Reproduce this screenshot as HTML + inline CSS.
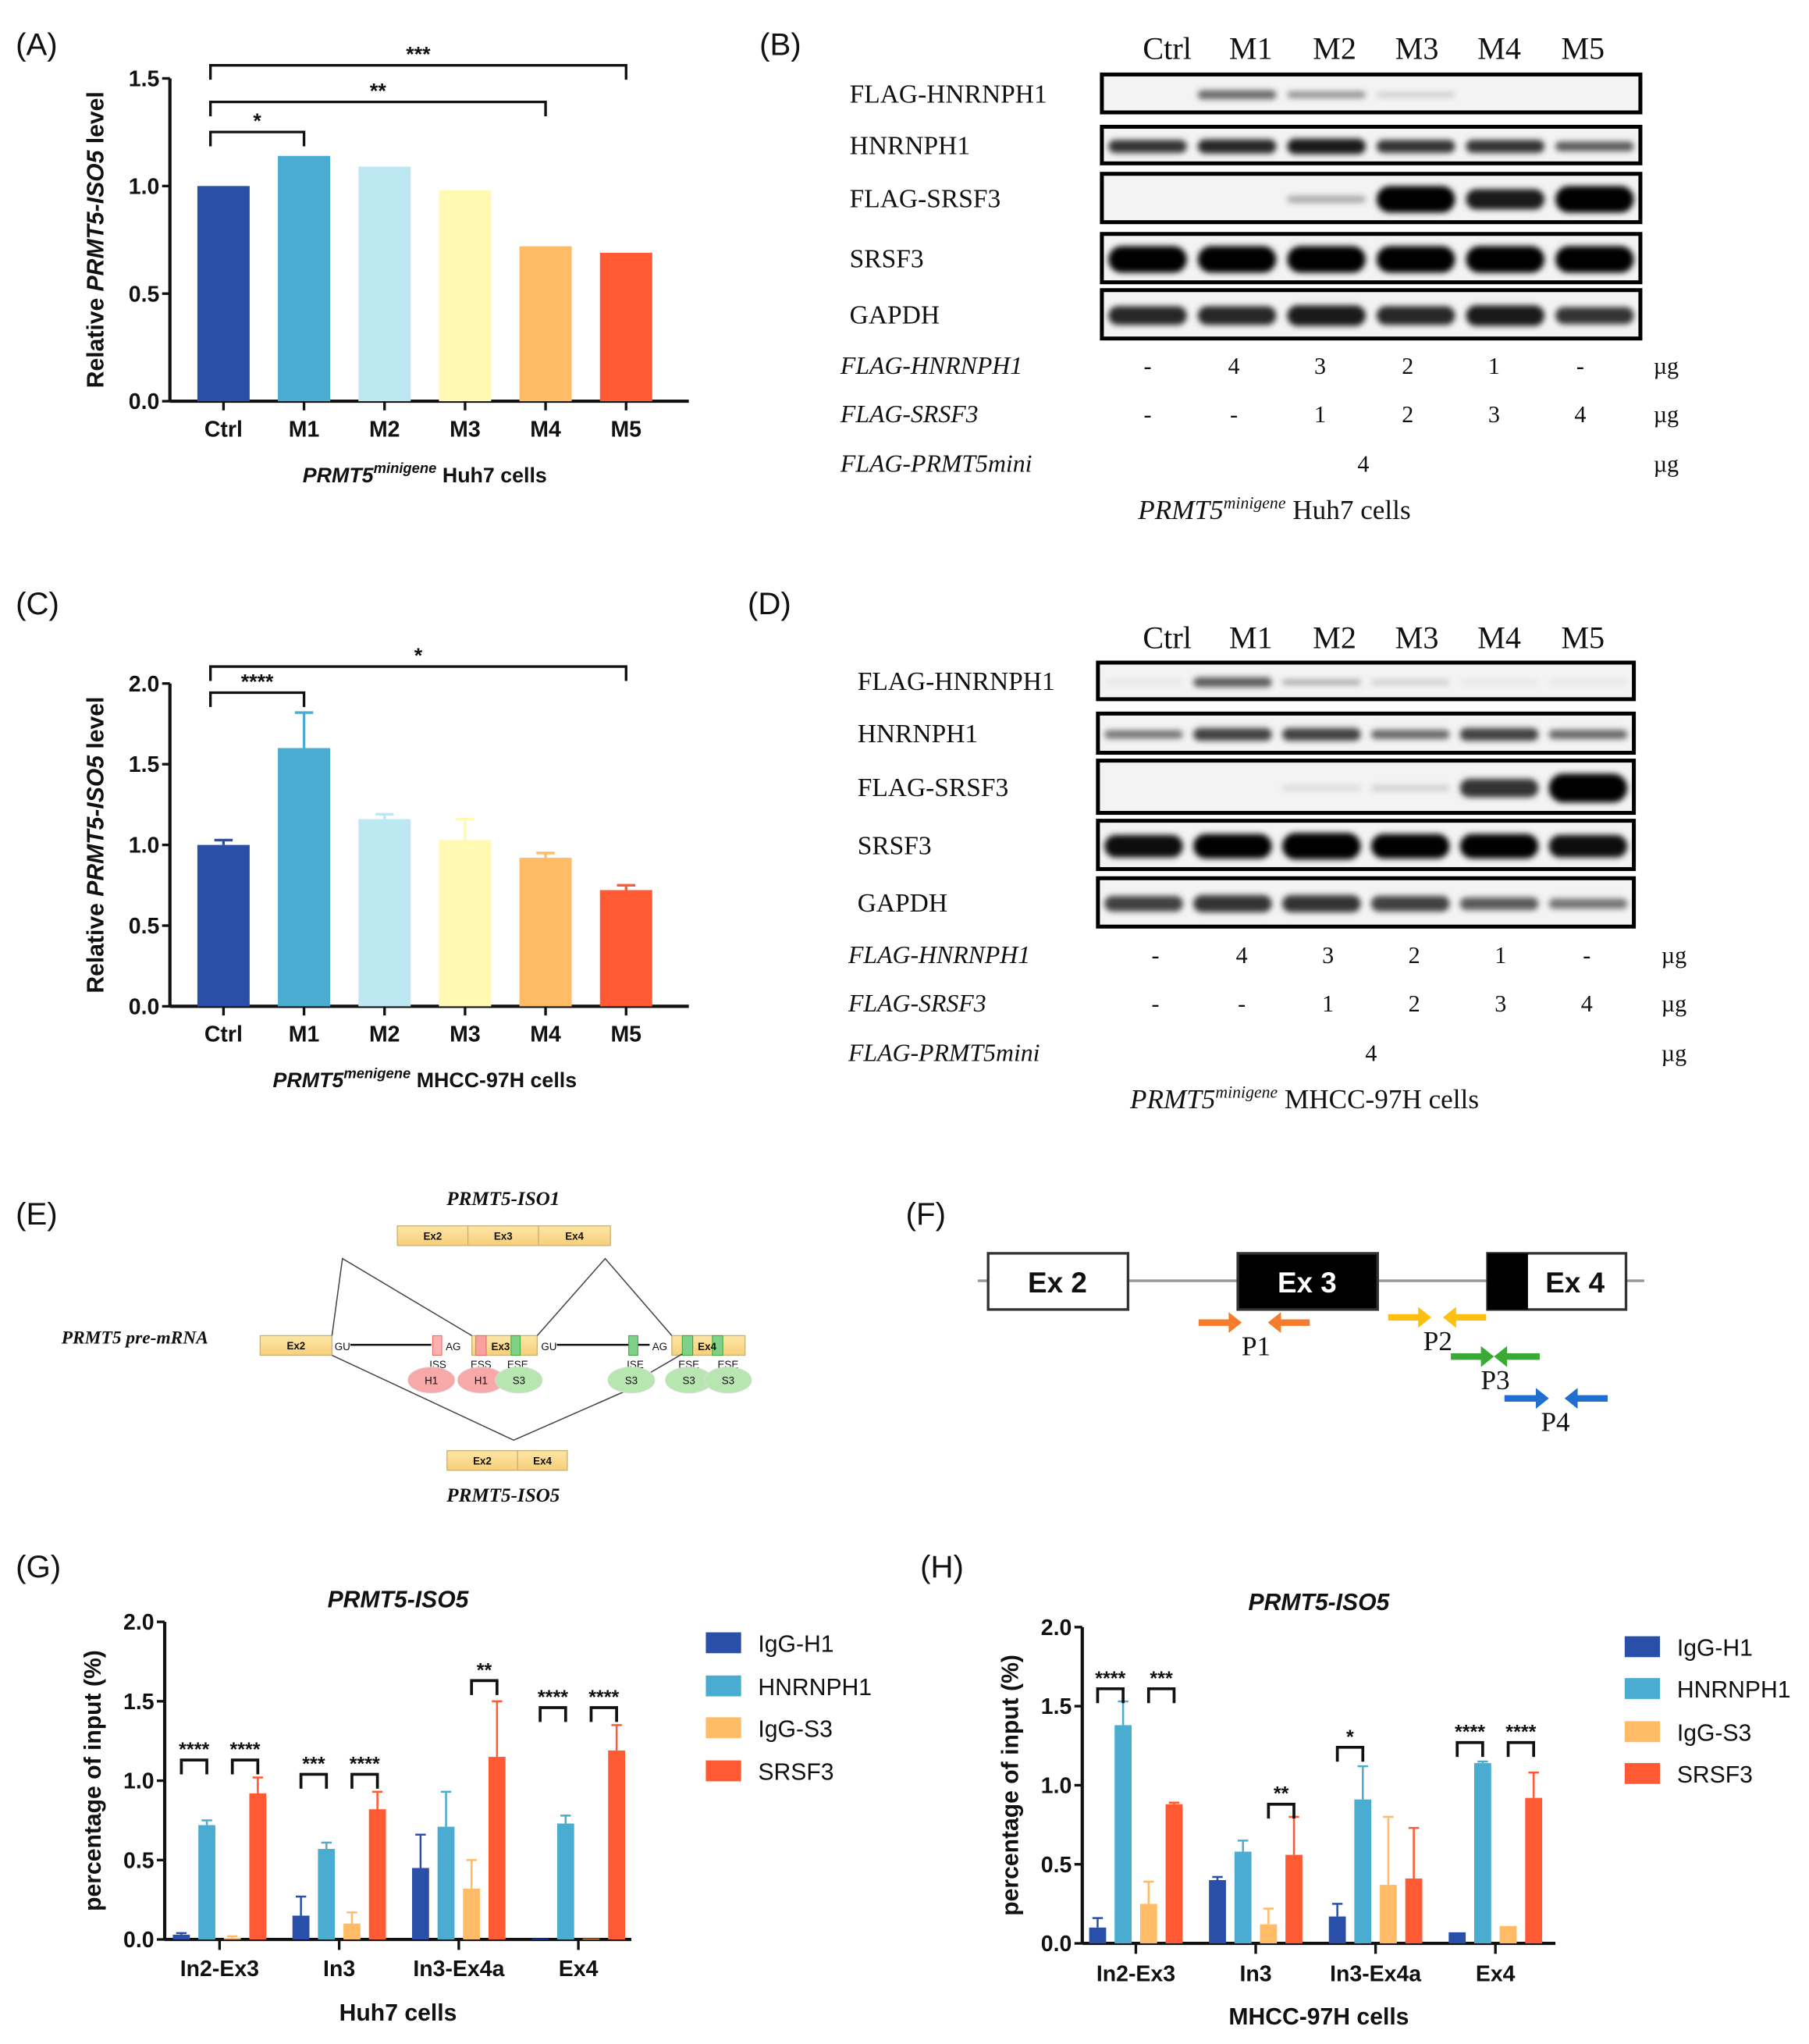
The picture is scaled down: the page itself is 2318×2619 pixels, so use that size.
<!DOCTYPE html>
<html><head><meta charset="utf-8">
<style>
html,body{margin:0;padding:0;background:#fff;}
svg{display:block;}
</style></head>
<body>
<svg id="fig" xmlns="http://www.w3.org/2000/svg" width="2318" height="2619" viewBox="0 0 1384 1564" preserveAspectRatio="none">
<defs>
<filter id="blur" x="-50%" y="-100%" width="200%" height="300%"><feGaussianBlur stdDeviation="2.3"/></filter>
<linearGradient id="exg" x1="0" y1="0" x2="0" y2="1"><stop offset="0" stop-color="#fde6a6"/><stop offset="1" stop-color="#f7cf7a"/></linearGradient>
</defs>
</svg>
<script>
// ---------- data ----------
const barCats = ['Ctrl','M1','M2','M3','M4','M5'];
const barColors = ['#2a4fa8','#4bacd2','#bde8f2','#fff9b3','#ffbb66','#ff5a33'];
const aValues = [1.0,1.14,1.09,0.98,0.72,0.69];
const aTicks = [0,0.5,1.0,1.5];
const cValues = [1.0,1.6,1.16,1.03,0.92,0.72];
const cErrors = [0.03,0.22,0.03,0.13,0.03,0.03];
const cTicks = [0,0.5,1.0,1.5,2.0];
const chipCats = ['In2-Ex3','In3','In3-Ex4a','Ex4'];
const chipSeries = ['IgG-H1','HNRNPH1','IgG-S3','SRSF3'];
const chipColors = ['#2a4fa8','#4bacd2','#ffbb66','#ff5a33'];
const gIgGH1 = [0.03,0.15,0.45,0.005];
const gHN = [0.72,0.57,0.71,0.73];
const gIgGS3 = [0.01,0.10,0.32,0.005];
const gSR = [0.92,0.82,1.15,1.19];
const gErrH1 = [0.01,0.12,0.21,0];
const gErrHN = [0.03,0.04,0.22,0.05];
const gErrS3 = [0.01,0.07,0.18,0];
const gErrSR = [0.10,0.11,0.35,0.16];
const hIgGH1 = [0.10,0.40,0.17,0.07];
const hHN = [1.38,0.58,0.91,1.14];
const hIgGS3 = [0.25,0.12,0.37,0.11];
const hSR = [0.88,0.56,0.41,0.92];
const hErrH1 = [0.06,0.02,0.08,0];
const hErrHN = [0.15,0.07,0.21,0.01];
const hErrS3 = [0.14,0.10,0.43,0];
const hErrSR = [0.01,0.24,0.32,0.16];
const chipTicks = [0,0.5,1.0,1.5,2.0];
const gSig = [[0,0,1,1.13,'****'],[0,2,3,1.13,'****'],[1,0,1,1.04,'***'],[1,2,3,1.04,'****'],[2,2,3,1.63,'**'],[3,0,1,1.46,'****'],[3,2,3,1.46,'****']];
const hSig = [[0,0,1,1.61,'****'],[0,2,3,1.61,'***'],[1,2,3,0.88,'**'],[2,0,1,1.24,'*'],[3,0,1,1.27,'****'],[3,2,3,1.27,'****']];
const blotRows = ['FLAG-HNRNPH1','HNRNPH1','FLAG-SRSF3','SRSF3','GAPDH'];
const bBands = [[0,0.55,0.4,0.15,0,0],[0.75,0.8,0.85,0.75,0.75,0.6],[0,0,0.3,1,0.85,1],[1,1,1,1,1,1],[0.8,0.8,0.85,0.8,0.85,0.75]];
const dBands = [[0.05,0.6,0.3,0.15,0.05,0.05],[0.5,0.7,0.7,0.55,0.7,0.55],[0,0,0.1,0.15,0.75,1],[0.9,0.95,1,0.95,0.95,0.9],[0.7,0.75,0.75,0.7,0.6,0.5]];
const amtHN = ['-','4','3','2','1','-'];
const amtSR = ['-','-','1','2','3','4'];

// ---------- helpers ----------
const NS='http://www.w3.org/2000/svg';
const svg=document.getElementById('fig');
function mk(tag,attrs,name,parent){
  const e=document.createElementNS(NS,tag);
  for(const k in attrs) e.setAttribute(k,attrs[k]);
  
  
  (parent||svg).appendChild(e);
  return e;
}
function txt(x,y,s,name,o){
  o=o||{};
  const t=mk('text',{x:x,y:y,'font-size':o.size||16,'text-anchor':o.anchor||'start',
    'font-family':o.serif?'"Liberation Serif",serif':'"Liberation Sans",sans-serif',
    'font-weight':o.bold?'bold':'normal','font-style':o.italic?'italic':'normal',fill:o.fill||'#111'},name,o.parent);
  if(o.rot) t.setAttribute('transform','rotate(-90 '+x+' '+y+')');
  if(o.html) t.innerHTML=s; else t.textContent=s;
  return t;
}
function line(x1,y1,x2,y2,name,o){
  o=o||{};
  return mk('line',{x1:x1,y1:y1,x2:x2,y2:y2,stroke:o.c||'#111','stroke-width':o.w||2},name,o.parent);
}

[['(A)',12,42],['(B)',581,42],['(C)',12,470],['(D)',572,470],['(E)',12,937],['(F)',693,937],['(G)',12,1207],['(H)',704,1207]].forEach(p=>{
  txt(p[1],p[2],p[0],'panel-label-'+p[0][1].toLowerCase(),{size:24});
});

// ---------- bar charts A, C ----------
function barChart(id,vals,errs,ticks,ax,y0,yTop,maxV,xEnd,sigs,xtitle){
  const g=mk('g',{},'chart-'+id);
  const ys=v=>y0-(v/maxV)*(y0-yTop);
  const xs=i=>171+i*61.6;
  line(ax,y0,ax,yTop,'y-axis-'+id,{parent:g,w:2.5});
  line(ax,y0,xEnd,y0,'x-axis-'+id,{parent:g,w:2.5});
  ticks.forEach(t=>{
    line(ax-6,ys(t),ax,ys(t),'y-tick-'+id,{parent:g});
    txt(ax-8,ys(t)+6,t.toFixed(1),'y-tick-label-'+id,{parent:g,size:17,bold:true,anchor:'end'});
  });
  vals.forEach((v,i)=>{
    mk('rect',{x:xs(i)-20,y:ys(v),width:40,height:y0-ys(v),fill:barColors[i]},'bar-'+id+'-'+barCats[i].toLowerCase(),g);
    if(errs){
      const ey=ys(v+errs[i]);
      line(xs(i),ys(v),xs(i),ey,'error-bar-'+id,{parent:g,c:barColors[i],w:2});
      line(xs(i)-7,ey,xs(i)+7,ey,'error-cap-'+id,{parent:g,c:barColors[i],w:2});
    }
    line(xs(i),y0,xs(i),y0+7,'x-tick-'+id,{parent:g});
    txt(xs(i),y0+27,barCats[i],'x-tick-label-'+id,{parent:g,size:17,bold:true,anchor:'middle'});
  });
  sigs.forEach(s=>{
    const x1=xs(0)-10, x2=xs(s[0]);
    mk('path',{d:'M'+x1+' '+(s[1]+11)+' V'+s[1]+' H'+x2+' V'+(s[1]+11),fill:'none',stroke:'#111','stroke-width':2},'significance-bracket-'+id,g);
    txt((x1+x2)/2,s[1]-3,s[2],'significance-stars-'+id,{parent:g,size:16,bold:true,anchor:'middle'});
  });
  txt(79,(y0+yTop)/2,'Relative <tspan font-style="italic">PRMT5-ISO5</tspan> level','y-axis-title-'+id,{parent:g,size:18,bold:true,anchor:'middle',rot:true,html:true});
  txt(325,y0+62,xtitle,'x-axis-title-'+id,{parent:g,size:16,bold:true,anchor:'middle',html:true});
}
barChart('a',aValues,null,aTicks,130,307,60,1.5,527,[[5,50,'***'],[4,78,'**'],[1,101,'*']],
 '<tspan font-style="italic">PRMT5</tspan><tspan font-style="italic" font-size="11" dy="-7">minigene</tspan><tspan dy="7"> Huh7 cells</tspan>');
barChart('c',cValues,cErrors,cTicks,130,770,523,2.0,527,[[1,530,'****'],[5,510,'*']],
 '<tspan font-style="italic">PRMT5</tspan><tspan font-style="italic" font-size="11" dy="-7">menigene</tspan><tspan dy="7"> MHCC-97H cells</tspan>');

// ---------- blots B, D ----------
function blot(id,bands,x1,x2,rows,headY,amtYs,amtLabX,amtXs,ugX,fourX,rowLabX){
  const g=mk('g',{},'western-blot-'+id);
  const laneX=[893,957,1021,1084,1147,1211];
  barCats.forEach((c,i)=>txt(laneX[i],headY,c,'lane-label-'+id,{parent:g,size:24,serif:true,anchor:'middle'}));
  rows.forEach((r,ri)=>{
    const top=r[0],bot=r[1],h=bot-top;
    mk('rect',{x:x1,y:top,width:x2-x1,height:h,fill:'#f3f3f3'},'blot-background-'+id,g);
    bands[ri].forEach((v,li)=>{
      if(v<=0.02) return;
      const cx=x1+35+li*(x2-x1-70)/5;
      const bh=Math.max(4,h*(0.1+0.45*v*v));
      mk('rect',{x:cx-30,y:(top+bot)/2-bh/2+1,width:60,height:bh,rx:bh/2,fill:'#000','fill-opacity':Math.min(1,v*1.05),filter:'url(#blur)'},'band-'+id+'-'+blotRows[ri].toLowerCase()+'-'+barCats[li].toLowerCase(),g);
    });
    mk('rect',{x:x1,y:top,width:x2-x1,height:h,fill:'none',stroke:'#000','stroke-width':3},'blot-frame-'+id,g);
    txt(rowLabX,(top+bot)/2+7,blotRows[ri],'blot-row-label-'+id,{parent:g,size:20,serif:true});
  });
  const lbls=['FLAG-HNRNPH1','FLAG-SRSF3','FLAG-PRMT5mini'];
  lbls.forEach((l,i)=>{
    txt(amtLabX,amtYs[i]+6,l,'amount-row-label-'+id,{parent:g,size:19,serif:true,italic:true});
    txt(ugX,amtYs[i]+6,'µg','unit-label-'+id,{parent:g,size:18,serif:true});
  });
  amtHN.forEach((a,i)=>txt(amtXs[i],amtYs[0]+6,a,'amount-hnrnph1-'+id,{parent:g,size:18,serif:true,anchor:'middle'}));
  amtSR.forEach((a,i)=>txt(amtXs[i],amtYs[1]+6,a,'amount-srsf3-'+id,{parent:g,size:18,serif:true,anchor:'middle'}));
  txt(fourX,amtYs[2]+6,'4','amount-prmt5mini-'+id,{parent:g,size:18,serif:true,anchor:'middle'});
  return g;
}
blot('b',bBands,843,1255,[[57,86],[97,125],[133,170],[179,216],[222,259]],45,[280,317,355],643,[878,944,1010,1077,1143,1209],1265,1043,650);
txt(975,397,'<tspan font-style="italic">PRMT5</tspan><tspan font-style="italic" font-size="13" dy="-8">minigene</tspan><tspan dy="8"> Huh7 cells</tspan>','blot-title-b',{size:21,serif:true,anchor:'middle',html:true});
blot('d',dBands,840,1250,[[507,535],[546,576],[582,622],[628,665],[672,709]],496,[731,768,806],649,[884,950,1016,1082,1148,1214],1271,1049,656);
txt(998,848,'<tspan font-style="italic">PRMT5</tspan><tspan font-style="italic" font-size="13" dy="-8">minigene</tspan><tspan dy="8"> MHCC-97H cells</tspan>','blot-title-d',{size:21,serif:true,anchor:'middle',html:true});

// ---------- E diagram ----------
(function(){
  const g=mk('g',{},'splicing-diagram');
  function exon(x,y,w,h,lab,name){
    mk('rect',{x:x,y:y,width:w,height:h,fill:'url(#exg)',stroke:'#c9b27a','stroke-width':0.8},name,g);
    if(lab) txt(x+w/2,y+h/2+3,lab,name+'-label',{parent:g,size:8,bold:true,anchor:'middle'});
  }
  txt(385,922,'PRMT5-ISO1','iso1-title',{parent:g,size:15,serif:true,bold:true,italic:true,anchor:'middle'});
  exon(304,938,54,15,'Ex2','iso1-ex2');exon(358,938,54,15,'Ex3','iso1-ex3');exon(412,938,55,15,'Ex4','iso1-ex4');
  txt(47,1028,'PRMT5 pre-mRNA','pre-mrna-label',{parent:g,size:14,serif:true,bold:true,italic:true});
  exon(199,1022,55,15,'Ex2','pre-ex2');
  txt(256,1033,'GU','gu-1',{parent:g,size:8});
  line(268,1029,330,1029,'intron-2',{parent:g,w:1.5});
  mk('rect',{x:331,y:1022,width:7,height:15,fill:'#f9b0ae',stroke:'#e66','stroke-width':0.6},'iss-element',g);
  txt(341,1033,'AG','ag-1',{parent:g,size:8});
  exon(361,1022,50,15,null,'pre-ex3');
  mk('rect',{x:364,y:1022,width:8,height:15,fill:'#f9a0a0',stroke:'#e66','stroke-width':0.6},'ess-element',g);
  mk('rect',{x:391,y:1022,width:7,height:15,fill:'#7fd18a',stroke:'#3a3','stroke-width':0.6},'ese-element-1',g);
  txt(383,1033,'Ex3','pre-ex3-label',{parent:g,size:8,bold:true,anchor:'middle'});
  txt(414,1033,'GU','gu-2',{parent:g,size:8});
  line(426,1029,497,1029,'intron-3',{parent:g,w:1.5});
  mk('rect',{x:481,y:1022,width:7,height:15,fill:'#7fd18a',stroke:'#3a3','stroke-width':0.6},'ise-element',g);
  txt(499,1033,'AG','ag-2',{parent:g,size:8});
  exon(514,1022,56,15,null,'pre-ex4');
  mk('rect',{x:522,y:1022,width:8,height:15,fill:'#7fd18a',stroke:'#3a3','stroke-width':0.6},'ese-element-2',g);
  mk('rect',{x:545,y:1022,width:8,height:15,fill:'#7fd18a',stroke:'#3a3','stroke-width':0.6},'ese-element-3',g);
  txt(541,1033,'Ex4','pre-ex4-label',{parent:g,size:8,bold:true,anchor:'middle'});
  [['ISS',335],['ESS',368],['ESE',396],['ISE',486],['ESE',527],['ESE',557]].forEach(l=>txt(l[1],1047,l[0],'element-label',{parent:g,size:8,anchor:'middle'}));
  mk('path',{d:'M254 1022 L262 963 L361 1022 M411 1022 L463 963 L514 1022 M254 1037 L393 1102 L484 1062 M498 1050 L522 1036',fill:'none',stroke:'#444','stroke-width':0.9},'splice-lines',g);
  [['H1',330,'#f7a8a8'],['H1',368,'#f7a8a8'],['S3',397,'#b8e6b0'],['S3',483,'#b8e6b0'],['S3',527,'#b8e6b0'],['S3',557,'#b8e6b0']].forEach(p=>{
    mk('ellipse',{cx:p[1],cy:1056,rx:18,ry:10,fill:p[2],stroke:'#ddd','stroke-width':0.5},'binding-protein-'+p[0].toLowerCase(),g);
    txt(p[1],1059,p[0],'binding-protein-label',{parent:g,size:8,anchor:'middle'});
  });
  exon(342,1110,54,15,'Ex2','iso5-ex2');exon(396,1110,38,15,'Ex4','iso5-ex4');
  txt(385,1149,'PRMT5-ISO5','iso5-title',{parent:g,size:15,serif:true,bold:true,italic:true,anchor:'middle'});
})();

// ---------- F primers ----------
(function(){
  const g=mk('g',{},'primer-map');
  line(748,980,1258,980,'gene-backbone',{parent:g,c:'#999',w:2});
  mk('rect',{x:756,y:959,width:107,height:43,fill:'#fff',stroke:'#333','stroke-width':2},'exon2-box',g);
  txt(809,989,'Ex 2','exon2-label',{parent:g,size:22,bold:true,anchor:'middle'});
  mk('rect',{x:947,y:959,width:107,height:43,fill:'#000',stroke:'#333','stroke-width':2},'exon3-box',g);
  txt(1000,989,'Ex 3','exon3-label',{parent:g,size:22,bold:true,anchor:'middle',fill:'#fff'});
  mk('rect',{x:1138,y:959,width:106,height:43,fill:'#fff',stroke:'#333','stroke-width':2},'exon4-box',g);
  mk('rect',{x:1138,y:959,width:31,height:43,fill:'#000'},'exon4-coding-part',g);
  txt(1205,989,'Ex 4','exon4-label',{parent:g,size:22,bold:true,anchor:'middle'});
  function arrow(x1,x2,y,c,name){
    const dir=x2>x1?1:-1, hx=x2-dir*10;
    mk('path',{d:'M'+x1+' '+(y-2.5)+' H'+hx+' V'+(y-8)+' L'+x2+' '+y+' L'+hx+' '+(y+8)+' V'+(y+2.5)+' H'+x1+' Z',fill:c},name,g);
  }
  arrow(917,950,1012,'#f47c2c','primer-p1-forward');arrow(1002,970,1012,'#f47c2c','primer-p1-reverse');
  txt(961,1037,'P1','primer-p1-label',{parent:g,size:21,serif:true,anchor:'middle'});
  arrow(1062,1095,1008,'#ffbf10','primer-p2-forward');arrow(1137,1104,1008,'#ffbf10','primer-p2-reverse');
  txt(1100,1033,'P2','primer-p2-label',{parent:g,size:21,serif:true,anchor:'middle'});
  arrow(1110,1143,1038,'#3aaa35','primer-p3-forward');arrow(1178,1143,1038,'#3aaa35','primer-p3-reverse');
  txt(1144,1063,'P3','primer-p3-label',{parent:g,size:21,serif:true,anchor:'middle'});
  arrow(1151,1185,1070,'#1f6fd1','primer-p4-forward');arrow(1230,1197,1070,'#1f6fd1','primer-p4-reverse');
  txt(1190,1095,'P4','primer-p4-label',{parent:g,size:21,serif:true,anchor:'middle'});
})();

// ---------- ChIP charts G, H ----------
function chipChart(id,series,errs,sigs,ax,y0,yTop,xEnd,catX,legX,legYs,xtitle,titleY,catLabY){
  const g=mk('g',{},'chip-chart-'+id);
  const ys=v=>y0-(v/2.0)*(y0-yTop);
  const xs=(c,s)=>catX[0]+c*(catX[1]-catX[0])+(s-1.5)*19.5;
  line(ax,y0,ax,yTop,'y-axis-'+id,{parent:g,w:2.5});
  line(ax,y0,xEnd,y0,'x-axis-'+id,{parent:g,w:2.5});
  chipTicks.forEach(t=>{
    line(ax-6,ys(t),ax,ys(t),'y-tick-'+id,{parent:g});
    txt(ax-8,ys(t)+6,t.toFixed(1),'y-tick-label-'+id,{parent:g,size:17,bold:true,anchor:'end'});
  });
  chipCats.forEach((c,ci)=>{
    const cx=catX[0]+ci*(catX[1]-catX[0]);
    line(cx,y0,cx,y0+8,'x-tick-'+id,{parent:g});
    txt(cx,catLabY,c,'x-tick-label-'+id,{parent:g,size:17,bold:true,anchor:'middle'});
    series.forEach((sv,si)=>{
      const v=sv[ci],x=xs(ci,si);
      mk('rect',{x:x-6.5,y:ys(v),width:13,height:y0-ys(v),fill:chipColors[si]},'bar-'+id+'-'+c.toLowerCase()+'-'+chipSeries[si].toLowerCase(),g);
      const e=errs[si][ci];
      if(e>0){
        line(x,ys(v),x,ys(v+e),'error-bar-'+id,{parent:g,c:chipColors[si],w:1.5});
        line(x-4,ys(v+e),x+4,ys(v+e),'error-cap-'+id,{parent:g,c:chipColors[si],w:1.5});
      }
    });
  });
  sigs.forEach(s=>{
    const x1=xs(s[0],s[1]),x2=xs(s[0],s[2]),y=ys(s[3]);
    mk('path',{d:'M'+x1+' '+(y+11)+' V'+y+' H'+x2+' V'+(y+11),fill:'none',stroke:'#111','stroke-width':2.2},'significance-bracket-'+id,g);
    txt((x1+x2)/2,y-3,s[4],'significance-stars-'+id,{parent:g,size:15,bold:true,anchor:'middle'});
  });
  txt((ax+xEnd)/2,titleY,'PRMT5-ISO5','chart-title-'+id,{parent:g,size:18,bold:true,italic:true,anchor:'middle'});
  txt(ax-49,(y0+yTop)/2,'percentage of input (%)','y-axis-title-'+id,{parent:g,size:18,bold:true,anchor:'middle',rot:true});
  txt((ax+xEnd)/2,y0+62,xtitle,'x-axis-title-'+id,{parent:g,size:18,bold:true,anchor:'middle'});
  chipSeries.forEach((s,i)=>{
    mk('rect',{x:legX,y:legYs[i]-8,width:27,height:16,fill:chipColors[i]},'legend-swatch-'+id+'-'+s.toLowerCase(),g);
    txt(legX+40,legYs[i]+7,s,'legend-entry-'+id+'-'+s.toLowerCase(),{parent:g,size:18});
  });
}
chipChart('g',[gIgGH1,gHN,gIgGS3,gSR],[gErrH1,gErrHN,gErrS3,gErrSR],gSig,126,1484,1241,483,[168,259.5],540,[1257,1290,1322,1355],'Huh7 cells',1230,1512);
chipChart('h',[hIgGH1,hHN,hIgGS3,hSR],[hErrH1,hErrHN,hErrS3,hErrSR],hSig,828,1487,1245,1190,[869,960.7],1243,[1260,1292,1325,1357],'MHCC-97H cells',1232,1516);
</script>
</body></html>
